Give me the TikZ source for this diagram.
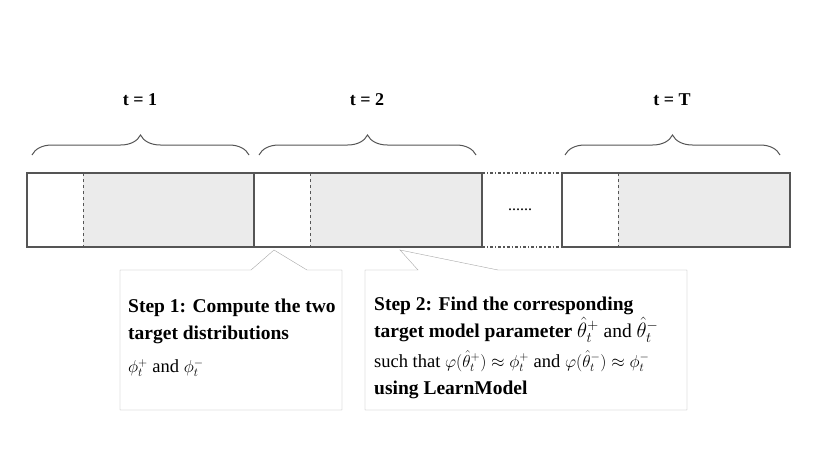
\documentclass[tikz,border=0pt]{standalone}
\usepackage{fontspec}
\setmainfont{Liberation Serif}
\usetikzlibrary{decorations.pathreplacing}
\definecolor{cellgray}{HTML}{EBEBEB}
\definecolor{edgegray}{HTML}{555555}
\definecolor{boxgray}{HTML}{A8A8A8}
\begin{document}
\begin{tikzpicture}[
    x=1pt,y=-1pt,
    cell/.style={fill=cellgray, draw=edgegray, line width=1.2pt},
    split/.style={draw=edgegray, dashed, thin},
    brace/.style={draw=edgegray, line width=1pt, decorate, decoration={brace, amplitude=20pt}},
    callout/.style={draw=boxgray, fill=white},
    lbl/.style={font=\fontsize{18}{21}\selectfont\bfseries},
    steptext/.style={anchor=west, inner sep=0pt, font=\fontsize{19.5}{22}\selectfont\bfseries},
    plaintext/.style={anchor=west, inner sep=0pt, font=\fontsize{18.5}{21}\selectfont}
    ]
    \useasboundingbox (0, 0) rectangle (818, 461);
    % the three time blocks
    \foreach \x in {27, 254, 562} {
      \draw[cell] (\x, 173) rectangle ++(228, 74);
      \fill[white] (\x+0.7, 173.7) rectangle (\x+56, 246.3);
      \draw[split] (\x+56, 173) -- (\x+56, 247);
    }
    % gap between t = 2 and t = T
    \draw[edgegray, line width=1.2pt, dash dot] (482, 173) -- (562, 173);
    \draw[edgegray, line width=1.2pt, dash dot] (482, 247) -- (562, 247);
    \node (dots) at (520, 210) {\fontsize{16}{18}\selectfont ......};
    % braces
    \draw[brace] (32, 155) -- (249, 155);
    \draw[brace] (259, 155) -- (476, 155);
    \draw[brace] (565, 155) -- (780, 155);
    \node[lbl] (t1) at (140, 100) {t = 1};
    \node[lbl] (t2) at (367, 100) {t = 2};
    \node[lbl] (tT) at (672, 100) {t = T};
    % callouts
    \draw[callout] (120, 270) -- (251, 270) -- (274, 250) -- (307, 270) -- (342, 270)
      -- (342, 410) -- (120, 410) -- cycle;
    \draw[callout] (365, 270) -- (418, 270) -- (400, 250) -- (498, 270) -- (687, 270)
      -- (687, 410) -- (365, 410) -- cycle;
    \node[steptext] (s1a) at (128, 308) {Step 1: Compute the two};
    \node[steptext] (s1b) at (128, 335) {target distributions};
    \node[plaintext] (s1c) at (128, 368) {$\phi_t^+$ and $\phi_t^-$};
    \node[steptext] (s2a) at (374, 306) {Step 2: Find\ the corresponding};
    \node[steptext] (s2b) at (374, 330) {target model parameter \normalfont$\hat\theta_t^+$ and $\hat\theta_t^-$};
    \node[plaintext] (s2c) at (374, 361) {such that $\varphi(\hat\theta_t^+)\approx\phi_t^+$ and $\varphi(\hat\theta_t^-)\approx\phi_t^-$};
    \node[steptext] (s2d) at (374, 390) {using LearnModel};
\end{tikzpicture}
\end{document}
